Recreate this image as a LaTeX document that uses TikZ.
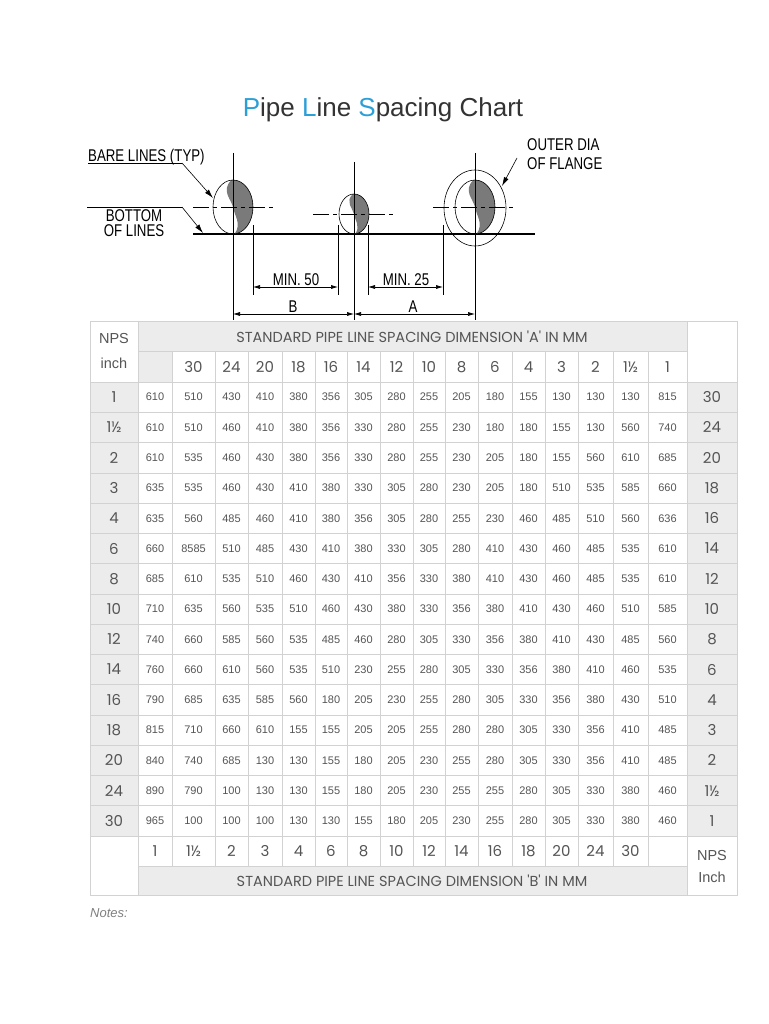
\documentclass[tikz,border=0pt]{standalone}
\usepackage{fontspec}
\usepackage{graphicx}
\setmainfont{Liberation Sans}
\newfontfamily\popfont{Poppins}
\usetikzlibrary{arrows.meta}
\definecolor{txt}{HTML}{555555}
\definecolor{cellshade}{HTML}{ECECEC}
\definecolor{gridc}{HTML}{D2D2D2}
\definecolor{titleblue}{HTML}{2A9FD8}
\definecolor{pipegrey}{HTML}{7A7A7A}
\newcommand{\cad}[1]{\scalebox{0.78}[1]{\fontsize{17}{17}\selectfont #1}}
\tikzset{
  cadtxt/.style={inner sep=0pt, font=\fontsize{17}{17}\selectfont},
  thin line/.style={line width=0.6pt},
  dimarrow/.style={line width=0.6pt, {Latex[length=7pt,width=4pt]}-{Latex[length=7pt,width=4pt]}},
  leader/.style={line width=0.6pt, -{Latex[length=9pt,width=5pt]}},
  centre/.style={line width=0.6pt, dash pattern=on 16pt off 4pt on 4pt off 4pt},
  cell/.style={inner sep=0pt, text=txt},
  datanum/.style={cell, font=\fontsize{11}{11}\selectfont},
  headnum/.style={cell, font=\popfont\fontsize{15}{15}\selectfont},
}
\newcommand{\pipe}[4]{% cx, cy, rx, ry  (y axis points down)
  \fill[pipegrey] ({#1+#3*cos(-95)},{#2+#4*sin(-95)}) arc[start angle=-95,end angle=85,x radius=#3,y radius=#4]
    .. controls ({#1+0.45*#3},{#2+0.6*#4}) and ({#1+0.05*#3},{#2+0.3*#4}) .. (#1,#2)
    .. controls ({#1-0.1*#3},{#2-0.3*#4}) and ({#1-0.6*#3},{#2-0.6*#4}) .. ({#1+#3*cos(-95)},{#2+#4*sin(-95)}) -- cycle;
  \draw[thin line] (#1,#2) ellipse[x radius=#3,y radius=#4];
}
\begin{document}
\begin{tikzpicture}[x=1pt,y=-1pt]
\useasboundingbox[fill=white] (0,0) rectangle (768,1024);
% title
\node[inner sep=0pt, font=\fontsize{26}{26}\selectfont, text=black!80] (title) at (383,110)
  {\textcolor{titleblue}{P}ipe \textcolor{titleblue}{L}ine \textcolor{titleblue}{S}pacing Chart};
% ground line
\draw[line width=1.6pt] (193,234) -- (535,234);
% pipes
\pipe{233}{207}{20}{27}
\pipe{354}{214}{15}{20}
\pipe{475}{207}{20}{27}
\draw[thin line] (475,208) ellipse[x radius=31,y radius=38];
% centre lines
\draw[thin line] (233,153) -- (233,320);
\draw[thin line] (354,162) -- (354,320);
\draw[thin line] (475,153) -- (475,320);
\draw[centre] (193,207) -- (273,207);
\draw[centre] (313,214) -- (395,214);
\draw[centre] (433,207) -- (515,207);
% extension lines
\draw[thin line] (253,225) -- (253,295);
\draw[thin line] (338,225) -- (338,295);
\draw[thin line] (368,225) -- (368,295);
\draw[thin line] (443,225) -- (443,295);
% dimensions
\coordinate (m50a) at (253,287); \coordinate (m50b) at (338,287);
\coordinate (m25a) at (368,287); \coordinate (m25b) at (443,287);
\coordinate (ba) at (233,314); \coordinate (bb) at (354,314); \coordinate (ab) at (475,314);
\draw[dimarrow] (m50a) -- (m50b);
\draw[dimarrow] (m25a) -- (m25b);
\draw[dimarrow] (ba) -- (bb);
\draw[dimarrow] (bb) -- (ab);
\node[cadtxt] (t50) at (296,280) {\cad{MIN. 50}};
\node[cadtxt] (t25) at (406,280) {\cad{MIN. 25}};
\node[cadtxt] (tB) at (293,307) {\cad{B}};
\node[cadtxt] (tA) at (413,307) {\cad{A}};
% labels
\node[cadtxt, anchor=west] (bare) at (88,157) {\cad{BARE LINES (TYP)}};
\coordinate (bareu) at (182,163);
\draw[thin line] (88,163) -- (bareu);
\draw[leader] (bareu) -- (213,198);
\node[cadtxt] (bot1) at (134,216) {\cad{BOTTOM}};
\node[cadtxt] (bot2) at (134,231) {\cad{OF LINES}};
\coordinate (botu) at (182,207);
\draw[thin line] (87,207) -- (botu);
\draw[leader] (botu) -- (203,233);
\node[cadtxt, anchor=west] (od1) at (527,145) {\cad{OUTER DIA}};
\node[cadtxt, anchor=west] (od2) at (527,164) {\cad{OF FLANGE}};
\coordinate (odl) at (517,158);
\draw[leader] (odl) -- (502,186);
% ---------- table ----------
\def\colxs{{90,138,172,215,248,282,315,347,380,413,445,478,512,545,578,613,648,687,737}}
% shading
\fill[cellshade] (138,321) rectangle (687,351);
\fill[cellshade] (138,351) rectangle (172,382);
\fill[cellshade] (90,382) rectangle (138,836);
\fill[cellshade] (687,382) rectangle (737,836);
\fill[cellshade] (138,866) rectangle (687,895);
% grid
\begin{scope}[gridc, line width=0.6pt]
\draw (90,321) rectangle (737,895);
\foreach \i in {2,...,17}{
  \pgfmathsetmacro\xx{\colxs[\i-1]}
  \draw (\xx,351) -- (\xx,866);
}
\draw (138,321) -- (138,895);
\draw (687,321) -- (687,895);
\draw (138,351) -- (687,351);
\draw (138,866) -- (687,866);
\foreach \r in {0,...,15}{
  \pgfmathsetmacro\yy{382+\r*30.27}
  \draw (90,\yy) -- (737,\yy);
}
\end{scope}
% headers
\node[cell, font=\popfont\fontsize{14.5}{14.5}\selectfont] (hA) at (412,337) {STANDARD PIPE LINE SPACING DIMENSION 'A' IN MM};
\node[cell, font=\popfont\fontsize{14.5}{14.5}\selectfont] (hB) at (412,881) {STANDARD PIPE LINE SPACING DIMENSION 'B' IN MM};
\node[cell, font=\fontsize{14.5}{14.5}\selectfont] (nps1) at (114,339) {NPS};
\node[cell, font=\fontsize{14.5}{14.5}\selectfont] (nps2) at (114,363) {inch};
\node[cell, font=\fontsize{14.5}{14.5}\selectfont] (nps3) at (712,855) {NPS};
\node[cell, font=\fontsize{14.5}{14.5}\selectfont] (nps4) at (712,877) {Inch};
\foreach \v [count=\c from 2] in {30,24,20,18,16,14,12,10,8,6,4,3,2,1½,1}{
  \pgfmathsetmacro\xl{\colxs[\c]}\pgfmathsetmacro\xr{\colxs[\c+1]}
  \node[headnum] (ha-\c) at ({(\xl+\xr)/2},367) {\v};
}
\foreach \v [count=\c from 1] in {1,1½,2,3,4,6,8,10,12,14,16,18,20,24,30}{
  \pgfmathsetmacro\xl{\colxs[\c]}\pgfmathsetmacro\xr{\colxs[\c+1]}
  \node[headnum] (hb-\c) at ({(\xl+\xr)/2},851) {\v};
}
% data rows
\foreach \l [count=\r] in {
 {1,610,510,430,410,380,356,305,280,255,205,180,155,130,130,130,815,30},
 {1½,610,510,460,410,380,356,330,280,255,230,180,180,155,130,560,740,24},
 {2,610,535,460,430,380,356,330,280,255,230,205,180,155,560,610,685,20},
 {3,635,535,460,430,410,380,330,305,280,230,205,180,510,535,585,660,18},
 {4,635,560,485,460,410,380,356,305,280,255,230,460,485,510,560,636,16},
 {6,660,8585,510,485,430,410,380,330,305,280,410,430,460,485,535,610,14},
 {8,685,610,535,510,460,430,410,356,330,380,410,430,460,485,535,610,12},
 {10,710,635,560,535,510,460,430,380,330,356,380,410,430,460,510,585,10},
 {12,740,660,585,560,535,485,460,280,305,330,356,380,410,430,485,560,8},
 {14,760,660,610,560,535,510,230,255,280,305,330,356,380,410,460,535,6},
 {16,790,685,635,585,560,180,205,230,255,280,305,330,356,380,430,510,4},
 {18,815,710,660,610,155,155,205,205,255,280,280,305,330,356,410,485,3},
 {20,840,740,685,130,130,155,180,205,230,255,280,305,330,356,410,485,2},
 {24,890,790,100,130,130,155,180,205,230,255,255,280,305,330,380,460,1½},
 {30,965,100,100,100,130,130,155,180,205,230,255,280,305,330,380,460,1}}{
  \pgfmathsetmacro\yy{382+(\r-0.5)*30.27}
  \foreach \v [count=\c from 0] in \l {
    \pgfmathsetmacro\xl{\colxs[\c]}\pgfmathsetmacro\xr{\colxs[\c+1]}
    \ifnum\c=0 \node[headnum] (d-\r-\c) at ({(\xl+\xr)/2},\yy) {\v};
    \else\ifnum\c=17 \node[headnum] (d-\r-\c) at ({(\xl+\xr)/2},\yy) {\v};
    \else \node[datanum] (d-\r-\c) at ({(\xl+\xr)/2},\yy) {\v};\fi\fi
  }
}
\node[cell, anchor=west, font=\itshape\fontsize{13}{13}\selectfont, text=gray] (notes) at (90,913) {Notes:};
\end{tikzpicture}
\end{document}
